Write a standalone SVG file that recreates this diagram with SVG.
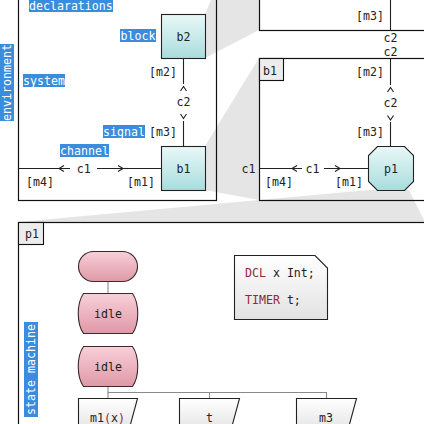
<svg xmlns="http://www.w3.org/2000/svg" width="424" height="424" viewBox="0 0 424 424">
<style>
text{font-family:"DejaVu Sans Mono","Liberation Mono",monospace;font-size:11.6px;fill:#222}
.hl{fill:#3a8ddd}
.hlt{fill:#fff}
.frame{fill:none;stroke:#111;stroke-width:1.2}
.ffill{fill:#fff;stroke:none}
.zoom{fill:#e5e5e5;stroke:none}
.blk{fill:url(#cyan);stroke:#222;stroke-width:1.1}
.lbox{fill:#ececec;stroke:#111;stroke-width:1.1}
.st{fill:url(#pink);stroke:#3a2a2e;stroke-width:1.1}
.inp{fill:url(#grey);stroke:#222;stroke-width:1.1}
.note{fill:url(#notef);stroke:#222;stroke-width:1.1}
.ch{fill:none;stroke:#222;stroke-width:1.1}
.tr{fill:none;stroke:#8a8a8a;stroke-width:1.1}
.kw{fill:#8c2a36}
.c{text-anchor:middle}
</style>
<defs>
<linearGradient id="cyan" x1="0" y1="0" x2="0" y2="1"><stop offset="0" stop-color="#e9f8f8"/><stop offset="1" stop-color="#a9dcdc"/></linearGradient>
<linearGradient id="pink" x1="0" y1="0" x2="0" y2="1"><stop offset="0" stop-color="#f8d0d8"/><stop offset="1" stop-color="#df98a7"/></linearGradient>
<linearGradient id="grey" x1="0" y1="0" x2="0" y2="1"><stop offset="0" stop-color="#ffffff"/><stop offset="1" stop-color="#cdcdcd"/></linearGradient>
<linearGradient id="notef" x1="0" y1="0" x2="0" y2="1"><stop offset="0" stop-color="#ffffff"/><stop offset="1" stop-color="#e2e2e2"/></linearGradient>
</defs>

<g id="background">
<rect class="ffill" x="18.5" y="-30" width="198" height="230.5"/>
<rect class="ffill" x="259.5" y="-120" width="200" height="150.5"/>
<rect class="ffill" x="259.5" y="58.5" width="200" height="142"/>
<rect class="ffill" x="18.5" y="222.5" width="440" height="240"/>
<polygon class="zoom" points="205,14 259,-112 259,30 205,58"/>
<polygon class="zoom" points="205,146 259,58 259,200 205,190"/>
<polygon class="zoom" points="369,190 409,190 425,222 18,222"/>
</g>

<g id="env-label">
<rect class="hl" x="0" y="44" width="14" height="77"/>
<text class="hlt c" transform="translate(11,82.5) rotate(-90)">environment</text>
</g>

<g id="system-frame">
<rect class="frame" x="18.5" y="-30" width="198" height="230.5"/>
<rect class="hl" x="29" y="-1" width="84" height="13"/>
<text class="hlt" x="29" y="9.5">declarations</text>
<rect class="hl" x="23" y="74" width="42" height="13"/>
<text class="hlt" x="23" y="84.5">system</text>
<rect class="hl" x="120" y="29" width="36" height="13"/>
<text class="hlt" x="120.5" y="39.5">block</text>
<rect class="hl" x="103" y="125" width="42" height="13"/>
<text class="hlt" x="103" y="135.5">signal</text>
<rect class="hl" x="60" y="144" width="49" height="13"/>
<text class="hlt" x="60" y="154.5">channel</text>
</g>

<g id="b2">
<rect class="blk" x="161.5" y="14.5" width="44" height="44"/>
<text class="c" x="183.5" y="40.5">b2</text>
</g>
<g id="b1">
<rect class="blk" x="161.5" y="146.5" width="44" height="44"/>
<text class="c" x="183.5" y="172.5">b1</text>
</g>

<g id="b2-frame">
<rect class="frame" x="259.5" y="-120" width="200" height="150.5"/>
<text x="356" y="20">[m3]</text>
</g>

<g id="b1-frame">
<rect class="frame" x="259.5" y="58.5" width="200" height="142"/>
<rect class="lbox" x="259.5" y="58.5" width="24" height="22"/>
<text x="263" y="74.5">b1</text>
</g>

<g id="p1">
<polygon class="blk" points="377.5,146.5 404.5,146.5 413.5,155.5 413.5,181.5 404.5,190.5 377.5,190.5 368.5,181.5 368.5,155.5"/>
<text class="c" x="391" y="172.5">p1</text>
</g>

<g id="connectors">
<line class="ch" x1="183.5" y1="58.5" x2="183.5" y2="84"/>
<polyline class="ch" points="180.5,91 183.5,86.5 186.5,91"/>
<text class="c" x="183.5" y="106">c2</text>
<polyline class="ch" points="180.5,114 183.5,118.5 186.5,114"/>
<line class="ch" x1="183.5" y1="121" x2="183.5" y2="146.5"/>
<text x="149" y="76">[m2]</text>
<text x="149" y="135.5">[m3]</text>
<line class="ch" x1="18.5" y1="168.5" x2="70" y2="168.5"/>
<polyline class="ch" points="64,165.5 59,168.5 64,171.5"/>
<text class="c" x="83.7" y="172.5">c1</text>
<line class="ch" x1="97" y1="168.5" x2="161.5" y2="168.5"/>
<polyline class="ch" points="118,165.5 123,168.5 118,171.5"/>
<text x="26" y="186">[m4]</text>
<text x="127" y="186">[m1]</text>
<line class="ch" x1="390.5" y1="-10" x2="390.5" y2="30.5"/>
<text class="c" x="390.5" y="42">c2</text>
<text class="c" x="390.5" y="55.5">c2</text>
<line class="ch" x1="390.5" y1="58.5" x2="390.5" y2="85"/>
<polyline class="ch" points="387.5,92 390.5,87.5 393.5,92"/>
<text class="c" x="390.5" y="107">c2</text>
<polyline class="ch" points="387.5,115.5 390.5,120 393.5,115.5"/>
<line class="ch" x1="390.5" y1="122" x2="390.5" y2="146.5"/>
<text x="356" y="76">[m2]</text>
<text x="356" y="135.5">[m3]</text>
<text class="c" x="248.5" y="172.5">c1</text>
<line class="ch" x1="259.5" y1="168.5" x2="302" y2="168.5"/>
<polyline class="ch" points="297,165.5 292,168.5 297,171.5"/>
<text class="c" x="312.5" y="172.5">c1</text>
<line class="ch" x1="324" y1="168.5" x2="368.5" y2="168.5"/>
<polyline class="ch" points="335,165.5 340,168.5 335,171.5"/>
<text x="265" y="186">[m4]</text>
<text x="335" y="186">[m1]</text>
<line class="tr" x1="108" y1="281.5" x2="108" y2="293.5"/>
<polyline class="tr" points="108,386.5 108,392.5 326.5,392.5 326.5,398.5"/>
<line class="tr" x1="108" y1="392.5" x2="108" y2="398.5"/>
<line class="tr" x1="209.5" y1="392.5" x2="209.5" y2="398.5"/>
</g>

<g id="p1-frame">
<rect class="frame" x="18.5" y="222.5" width="440" height="240"/>
<rect class="lbox" x="18.5" y="222.5" width="25" height="22"/>
<text x="25" y="237.5">p1</text>
<rect class="hl" x="24" y="322" width="14" height="95"/>
<text class="hlt c" transform="translate(35,369.5) rotate(-90)">state machine</text>
</g>

<g id="start">
<rect class="st" x="78.5" y="251.5" width="59" height="30" rx="15" ry="15"/>
</g>

<g id="idle1">
<path class="st" d="M83.5,293.5 H132.5 C139.5,303.5 139.5,323.5 132.5,333.5 H83.5 C76.5,323.5 76.5,303.5 83.5,293.5 Z"/>
<text class="c" x="108" y="317.5">idle</text>
</g>

<g id="idle2">
<path class="st" d="M83.5,346.5 H132.5 C139.5,356.5 139.5,376.5 132.5,386.5 H83.5 C76.5,376.5 76.5,356.5 83.5,346.5 Z"/>
<text class="c" x="108" y="370.5">idle</text>
</g>

<g id="input-m1">
<path class="inp" d="M78.5,398.5 H137.5 L129.5,428 L137.5,458 H78.5 Z"/>
<text class="c" x="107.5" y="421.5">m1<tspan class="kw">(</tspan>x<tspan class="kw">)</tspan></text>
</g>

<g id="input-t">
<path class="inp" d="M179.5,398.5 H239.5 L231.5,428 L239.5,458 H179.5 Z"/>
<text class="c" x="209.5" y="421.5">t</text>
</g>

<g id="input-m3">
<path class="inp" d="M296.5,398.5 H356.5 L348.5,428 L356.5,458 H296.5 Z"/>
<text class="c" x="326" y="421.5">m3</text>
</g>

<g id="note">
<path class="note" d="M234.5,255.5 H315 L327.5,268 V319.5 H234.5 Z"/>
<text x="245" y="277"><tspan class="kw">DCL</tspan> x Int;</text>
<text x="245" y="304"><tspan class="kw">TIMER</tspan> t;</text>
</g>
</svg>
